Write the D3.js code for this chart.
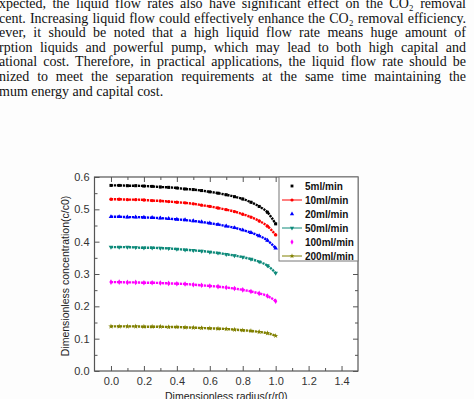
<!DOCTYPE html>
<html>
<head>
<meta charset="utf-8">
<script src="https://cdn.jsdelivr.net/npm/d3@7"></script>
<style>
  body { margin: 0; background: #fdfdfd; overflow: hidden; }
  #page { position: relative; width: 474px; height: 399px; overflow: hidden; }
  .para { position: absolute; left: -1px; width: 467px; font-family: "Liberation Serif", "Times New Roman", serif;
          font-size: 14px; color: #111; white-space: nowrap; text-align: justify; text-align-last: justify; line-height: 14px; }
  .para.last { text-align-last: left; }
  svg { position: absolute; left: 0; top: 0; }
</style>
</head>
<body>
<div id="page"><svg id="chart" width="474" height="399"></svg></div>
<script>
// text lines above the figure (visible part of the page)
const paraLines = [
  "xpected, the liquid flow rates also have significant effect on the CO\u2082 removal",
  "cent. Increasing liquid flow could effectively enhance the CO\u2082 removal efficiency.",
  "ever, it should be noted that a high liquid flow rate means huge amount of",
  "rption liquids and powerful pump, which may lead to both high capital and",
  "ational cost. Therefore, in practical applications, the liquid flow rate should be",
  "nized to meet the separation requirements at the same time maintaining the",
  "mum energy and capital cost."
];

// chart data
const radius = [0, 0.05, 0.1, 0.15, 0.2, 0.25, 0.3, 0.35, 0.4, 0.45, 0.5,
                0.55, 0.6, 0.65, 0.7, 0.75, 0.8, 0.85, 0.9, 0.95, 1.0];
const seriesNames = ["5ml/min", "10ml/min", "20ml/min", "50ml/min", "100ml/min", "200ml/min"];
const conc5 = [0.574, 0.574, 0.573, 0.573, 0.572, 0.571, 0.569, 0.568, 0.566, 0.563, 0.561,
               0.558, 0.554, 0.550, 0.545, 0.539, 0.532, 0.522, 0.509, 0.491, 0.455];
const conc10 = [0.531, 0.531, 0.530, 0.530, 0.529, 0.527, 0.526, 0.524, 0.522, 0.520, 0.517,
                0.513, 0.509, 0.504, 0.499, 0.493, 0.485, 0.476, 0.464, 0.448, 0.421];
const conc20 = [0.477, 0.477, 0.476, 0.476, 0.475, 0.474, 0.473, 0.471, 0.469, 0.467, 0.464,
                0.461, 0.457, 0.453, 0.448, 0.443, 0.436, 0.428, 0.418, 0.404, 0.380];
const conc50 = [0.383, 0.383, 0.383, 0.382, 0.381, 0.381, 0.380, 0.379, 0.377, 0.375, 0.373,
                0.371, 0.368, 0.365, 0.361, 0.357, 0.352, 0.346, 0.338, 0.326, 0.303];
const conc100 = [0.275, 0.275, 0.274, 0.274, 0.273, 0.273, 0.272, 0.271, 0.270, 0.269, 0.267,
                 0.265, 0.263, 0.261, 0.258, 0.255, 0.251, 0.246, 0.240, 0.232, 0.216];
const conc200 = [0.138, 0.138, 0.138, 0.138, 0.137, 0.137, 0.137, 0.136, 0.136, 0.135, 0.134,
                 0.133, 0.132, 0.131, 0.130, 0.128, 0.126, 0.124, 0.121, 0.117, 0.109];
const xTickLabels = ["0.0", "0.2", "0.4", "0.6", "0.8", "1.0", "1.2", "1.4"];
const yTickLabels = ["0.0", "0.1", "0.2", "0.3", "0.4", "0.5", "0.6"];

function main() {
    const page = d3.select("#page");
    page.selectAll(".para")
        .data(paraLines)
        .join("div")
        .attr("class", (d, i) => i === paraLines.length - 1 ? "para last" : "para")
        .style("top", (d, i) => (-3 + i * 14.6) + "px")
        .text(d => d);

    const svg = d3.select("#chart");
    const left = 94.5, right = 358, top = 177, bottom = 371;

    const x = d3.scaleLinear().domain([-0.1, 1.5]).range([left, right]);
    const y = d3.scaleLinear().domain([0, 0.6]).range([bottom, top]);

    const colors = ["#000000", "#ff0000", "#0000ff", "#0e8a7a", "#ff00ff", "#808000"];
    const symbols = [d3.symbolSquare, d3.symbolCircle, d3.symbolTriangle, d3.symbolTriangle, d3.symbolDiamond, d3.symbolStar];
    const flips = [0, 0, 0, 180, 0, 0];
    const legendLine = [false, true, false, true, false, true];
    const allConc = [conc5, conc10, conc20, conc50, conc100, conc200];

    const series = seriesNames.map((name, i) => ({
        name: name,
        color: colors[i],
        values: radius.map((r, j) => ({ r: r, c: allConc[i][j] }))
    }));

    const axisColor = "#555";
    const tickFont = "Liberation Sans, Arial, sans-serif";

    // frame
    svg.append("rect")
        .attr("x", left).attr("y", top)
        .attr("width", right - left).attr("height", bottom - top)
        .attr("fill", "white")
        .attr("stroke", axisColor).attr("stroke-width", 1.2);

    // axes with inward ticks
    const xMajor = xTickLabels.map(Number);
    const xMinor = d3.range(0, 15).map(d => d / 10).filter(d => Math.round(d * 10) % 2 === 1);
    const yMajor = yTickLabels.map(Number);
    const yMinor = d3.range(0, 12).map(d => d * 0.05).filter((d, i) => i % 2 === 1);

    const xAxisB = d3.axisBottom(x).tickValues(xMajor).tickSize(-5).tickFormat((d, i) => xTickLabels[i]).tickPadding(6);
    const xAxisBm = d3.axisBottom(x).tickValues(xMinor).tickSize(-3).tickFormat("");
    const xAxisT = d3.axisTop(x).tickValues(xMajor).tickSize(-5).tickFormat("");
    const xAxisTm = d3.axisTop(x).tickValues(xMinor).tickSize(-3).tickFormat("");
    const yAxisL = d3.axisLeft(y).tickValues(yMajor).tickSize(-5).tickFormat((d, i) => yTickLabels[i]).tickPadding(5);
    const yAxisLm = d3.axisLeft(y).tickValues(yMinor).tickSize(-3).tickFormat("");
    const yAxisR = d3.axisRight(y).tickValues(yMajor).tickSize(-5).tickFormat("");
    const yAxisRm = d3.axisRight(y).tickValues(yMinor).tickSize(-3).tickFormat("");

    const addAxis = (axis, tx, ty) => {
        const g = svg.append("g").attr("transform", `translate(${tx},${ty})`).call(axis);
        g.select(".domain").remove();
        g.selectAll("line").attr("stroke", axisColor);
        g.selectAll("text").attr("fill", "#333").style("font-family", tickFont).style("font-size", "11px");
        return g;
    };
    addAxis(xAxisB, 0, bottom);
    addAxis(xAxisBm, 0, bottom);
    addAxis(xAxisT, 0, top);
    addAxis(xAxisTm, 0, top);
    addAxis(yAxisL, left, 0);
    addAxis(yAxisLm, left, 0);
    addAxis(yAxisR, right, 0);
    addAxis(yAxisRm, right, 0);

    // axis titles
    svg.append("text")
        .attr("transform", `translate(69,${(top + bottom) / 2 + 2}) rotate(-90)`)
        .attr("text-anchor", "middle")
        .attr("fill", "#222")
        .style("font-family", tickFont).style("font-size", "10.5px")
        .text("Dimensionless concentration(c/c0)");
    svg.append("text")
        .attr("x", (left + right) / 2).attr("y", 400)
        .attr("text-anchor", "middle")
        .attr("fill", "#222")
        .style("font-family", tickFont).style("font-size", "10.5px")
        .text("Dimensionless radius(r/r0)");

    // curves
    const line = d3.line()
        .x(d => x(d.r))
        .y(d => y(d.c))
        .curve(d3.curveMonotoneX);

    const g = svg.append("g");
    series.forEach((s, i) => {
        g.append("path")
            .datum(s.values)
            .attr("d", line)
            .attr("fill", "none")
            .attr("stroke", s.color)
            .attr("stroke-width", 2.4)
            .attr("stroke-dasharray", "2.2,0.8");
        g.selectAll(null)
            .data(s.values)
            .join("path")
            .attr("d", d3.symbol().type(symbols[i]).size(9))
            .attr("transform", d => `translate(${x(d.r)},${y(d.c)}) rotate(${flips[i]})`)
            .attr("fill", s.color);
    });

    // legend
    const lgX = 279, lgY = 177, lgW = right - 279, lgH = 84;
    const legend = svg.append("g");
    legend.append("rect")
        .attr("x", lgX).attr("y", lgY).attr("width", lgW).attr("height", lgH)
        .attr("fill", "white").attr("stroke", "#777").attr("stroke-width", 1);
    const items = legend.selectAll("g.item")
        .data(series)
        .join("g")
        .attr("class", "item")
        .attr("transform", (d, i) => `translate(0,${lgY + 9 + i * 14})`);
    items.filter((d, i) => legendLine[i])
        .append("line")
        .attr("x1", 282).attr("x2", 302)
        .attr("stroke", d => d.color).attr("stroke-width", 1);
    items.append("path")
        .attr("d", (d, i) => d3.symbol().type(symbols[i]).size(8)())
        .attr("transform", (d, i) => `translate(292,0) rotate(${flips[i]})`)
        .attr("fill", d => d.color);
    items.append("text")
        .attr("x", 305).attr("y", 3.5)
        .attr("fill", "#111")
        .style("font-family", tickFont).style("font-size", "10px").style("font-weight", "bold")
        .text(d => d.name);
}

main();
</script>
</body>
</html>
